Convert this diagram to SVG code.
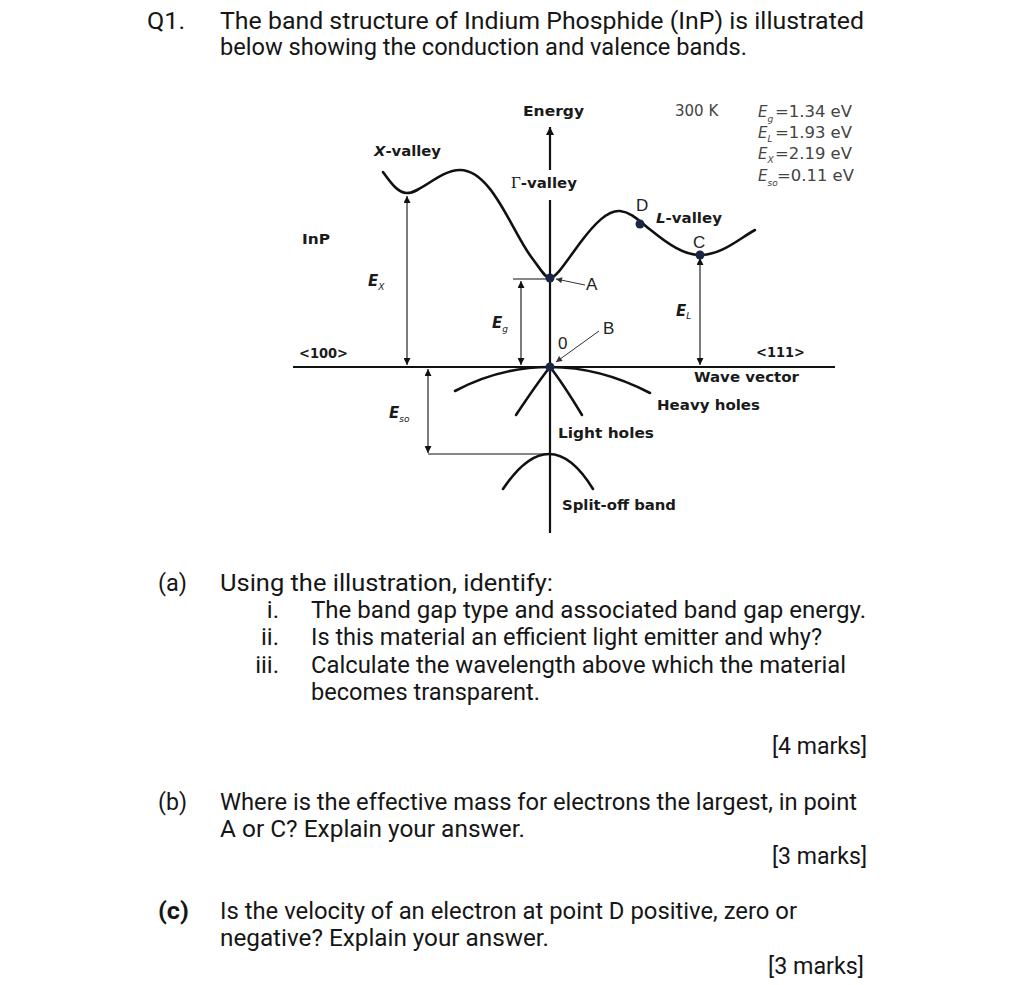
<svg xmlns="http://www.w3.org/2000/svg" width="1024" height="985" viewBox="0 0 1024 985">
<defs>
<marker id="ah" viewBox="0 0 10 10" refX="10" refY="5" markerWidth="8" markerHeight="7" markerUnits="userSpaceOnUse" orient="auto-start-reverse">
<path d="M0,0 L10,5 L0,10 z" fill="#111"/>
</marker>
<marker id="ahs" viewBox="0 0 10 10" refX="10" refY="5" markerWidth="9" markerHeight="6" markerUnits="userSpaceOnUse" orient="auto">
<path d="M0,0 L10,5 L0,10 z" fill="#333"/>
</marker>
<marker id="axh" viewBox="0 0 10 10" refX="10" refY="5" markerWidth="9" markerHeight="8" markerUnits="userSpaceOnUse" orient="auto">
<path d="M0,0 L10,5 L0,10 z" fill="#111"/>
</marker>
</defs>
<style>
.q{font-family:Roboto,"Liberation Sans",sans-serif;font-size:24px;fill:#161616}
.qb{font-weight:bold}
.lb{font-family:"DejaVu Sans","Liberation Sans",sans-serif;font-weight:bold;font-size:14px;fill:#1a1a1a}
.pt{font-family:"Liberation Sans",Arial,sans-serif;font-size:17px;fill:#222}
.gr{font-family:"DejaVu Sans","Liberation Sans",sans-serif;font-size:15px;fill:#444}
.ei{font-family:"DejaVu Sans","Liberation Sans",sans-serif;font-weight:bold;font-style:italic;font-size:15px;fill:#1a1a1a}
.sub{font-size:9px;font-style:italic}
.band{fill:none;stroke:#111;stroke-width:2.6;stroke-linecap:round}
.ax{fill:none;stroke:#111;stroke-width:2.2}
.th{fill:none;stroke:#111;stroke-width:1.1}
.dot{fill:#1b2644}
</style>
<rect width="1024" height="985" fill="#fff"/>

<g id="question-text">
<text class="q" x="147" y="29" textLength="38" lengthAdjust="spacingAndGlyphs">Q1.</text>
<text class="q" x="220" y="29" textLength="644" lengthAdjust="spacingAndGlyphs">The band structure of Indium Phosphide (InP) is illustrated</text>
<text class="q" x="220" y="55" textLength="527" lengthAdjust="spacingAndGlyphs">below showing the conduction and valence bands.</text>

<text class="q" x="158" y="591" textLength="29" lengthAdjust="spacingAndGlyphs">(a)</text>
<text class="q" x="220" y="591" textLength="333" lengthAdjust="spacingAndGlyphs">Using the illustration, identify:</text>
<text class="q" x="279" y="618" text-anchor="end">i.</text>
<text class="q" x="311" y="618" textLength="555" lengthAdjust="spacingAndGlyphs">The band gap type and associated band gap energy.</text>
<text class="q" x="279" y="645" text-anchor="end">ii.</text>
<text class="q" x="311" y="645" textLength="511" lengthAdjust="spacingAndGlyphs">Is this material an efficient light emitter and why?</text>
<text class="q" x="279" y="673" text-anchor="end">iii.</text>
<text class="q" x="311" y="673" textLength="535" lengthAdjust="spacingAndGlyphs">Calculate the wavelength above which the material</text>
<text class="q" x="311" y="700" textLength="229" lengthAdjust="spacingAndGlyphs">becomes transparent.</text>
<text class="q" x="772" y="754" textLength="95" lengthAdjust="spacingAndGlyphs">[4 marks]</text>

<text class="q" x="158" y="810" textLength="29" lengthAdjust="spacingAndGlyphs">(b)</text>
<text class="q" x="220" y="810" textLength="637" lengthAdjust="spacingAndGlyphs">Where is the effective mass for electrons the largest, in point</text>
<text class="q" x="220" y="837" textLength="305" lengthAdjust="spacingAndGlyphs">A or C? Explain your answer.</text>
<text class="q" x="772" y="864" textLength="95" lengthAdjust="spacingAndGlyphs">[3 marks]</text>

<text class="q qb" x="158" y="919" textLength="31" lengthAdjust="spacingAndGlyphs">(c)</text>
<text class="q" x="220" y="919" textLength="577" lengthAdjust="spacingAndGlyphs">Is the velocity of an electron at point D positive, zero or</text>
<text class="q" x="220" y="946" textLength="329" lengthAdjust="spacingAndGlyphs">negative? Explain your answer.</text>
<text class="q" x="768" y="974" textLength="96" lengthAdjust="spacingAndGlyphs">[3 marks]</text>
</g>

<g id="axes">
<line class="ax" x1="293" y1="367" x2="835" y2="367"/>
<line class="ax" x1="550" y1="533" x2="550" y2="200"/>
<line class="ax" x1="550" y1="170" x2="550" y2="127" marker-end="url(#axh)"/>
</g>

<g id="bands">
<path id="conduction-band" class="band" d="M383,172 C391,183 398,193 407,193 C421,193 440,170 460,170 C492,170 512,232 532,258 C541,270 545,278 550,278 C556,278 566,262 580,243 C595,223 608,210 620,211 C632,212 640,222 652,231 C668,244 684,255 700,255 C722,255 740,238 755,230"/>
<path id="heavy-holes" class="band" d="M455,391 Q500,367 550,367 Q600,367 650,393"/>
<path id="light-holes" class="band" d="M516,415 Q538,382 550,367 Q562,382 582,415"/>
<path id="split-off" class="band" d="M503,489 Q550,419 593,489"/>
</g>

<g id="connectors">
<line class="th" x1="407" y1="196" x2="407" y2="365" marker-start="url(#ah)" marker-end="url(#ah)"/>
<line class="th" x1="513" y1="279" x2="550" y2="279"/>
<line class="th" x1="521" y1="281" x2="521" y2="365" marker-start="url(#ah)" marker-end="url(#ah)"/>
<line class="th" x1="700" y1="258" x2="700" y2="365" marker-start="url(#ah)" marker-end="url(#ah)"/>
<line class="th" x1="428" y1="369" x2="428" y2="453" marker-start="url(#ah)" marker-end="url(#ah)"/>
<line class="th" x1="428" y1="454" x2="550" y2="454"/>
<line x1="585" y1="285" x2="556" y2="279" stroke="#333" stroke-width="1" marker-end="url(#ahs)"/>
<line x1="599" y1="331" x2="556" y2="362" stroke="#333" stroke-width="1" marker-end="url(#ahs)"/>
</g>

<g id="points">
<circle id="pt-A" class="dot" cx="550" cy="278" r="4.5"/>
<circle id="pt-origin" class="dot" cx="550" cy="367" r="4.5"/>
<circle id="pt-D" class="dot" cx="640" cy="224" r="4.5"/>
<circle id="pt-C" class="dot" cx="700" cy="255" r="4.5"/>
</g>

<g id="labels">
<text class="lb" x="523" y="116" textLength="61" lengthAdjust="spacingAndGlyphs">Energy</text>
<text class="lb" x="374" y="156" textLength="67" lengthAdjust="spacingAndGlyphs"><tspan font-style="italic">X</tspan>-valley</text>
<text class="lb" x="511" y="188" textLength="66" lengthAdjust="spacingAndGlyphs"><tspan font-family="Liberation Serif,serif" font-weight="normal" font-size="16">Γ</tspan>-valley</text>
<text class="lb" x="656" y="223" textLength="66" lengthAdjust="spacingAndGlyphs"><tspan font-style="italic">L</tspan>-valley</text>
<text class="lb" x="302" y="244" textLength="28" lengthAdjust="spacingAndGlyphs">InP</text>
<text class="lb" x="299" y="358" textLength="49" lengthAdjust="spacingAndGlyphs">&lt;100&gt;</text>
<text class="lb" x="756" y="357" textLength="49" lengthAdjust="spacingAndGlyphs">&lt;111&gt;</text>
<text class="lb" x="694" y="382" textLength="105" lengthAdjust="spacingAndGlyphs">Wave vector</text>
<text class="lb" x="657" y="410" textLength="103" lengthAdjust="spacingAndGlyphs">Heavy holes</text>
<text class="lb" x="558" y="438" textLength="96" lengthAdjust="spacingAndGlyphs">Light holes</text>
<text class="lb" x="562" y="510" textLength="114" lengthAdjust="spacingAndGlyphs">Split-off band</text>

<text class="pt" x="636" y="211">D</text>
<text class="pt" x="693" y="248">C</text>
<text class="pt" x="586" y="290">A</text>
<text class="pt" x="603" y="334">B</text>
<text class="pt" x="558" y="349" font-size="15" fill="#444">0</text>

<text class="ei" x="368" y="286">E<tspan class="sub" font-weight="normal" font-size="10" dy="4">X</tspan></text>
<text class="ei" x="492" y="328">E<tspan class="sub" font-weight="normal" font-size="10" dy="4">g</tspan></text>
<text class="ei" x="676" y="316">E<tspan class="sub" font-weight="normal" font-size="9" dy="3">L</tspan></text>
<text class="ei" x="389" y="418">E<tspan class="sub" font-weight="normal" font-size="9" dy="4">so</tspan></text>

<text class="gr" x="675" y="116">300 K</text>
<text class="gr" x="758" y="117"><tspan font-style="italic">E</tspan><tspan class="sub" dy="5">g</tspan></text>
<text class="gr" x="775" y="117" textLength="77" lengthAdjust="spacingAndGlyphs">=1.34 eV</text>
<text class="gr" x="758" y="138"><tspan font-style="italic">E</tspan><tspan class="sub" dy="4">L</tspan></text>
<text class="gr" x="775" y="138" textLength="77" lengthAdjust="spacingAndGlyphs">=1.93 eV</text>
<text class="gr" x="758" y="159"><tspan font-style="italic">E</tspan><tspan class="sub" dy="4">X</tspan></text>
<text class="gr" x="775" y="159" textLength="77" lengthAdjust="spacingAndGlyphs">=2.19 eV</text>
<text class="gr" x="758" y="181"><tspan font-style="italic">E</tspan><tspan class="sub" font-size="6" dy="5">so</tspan></text>
<text class="gr" x="777" y="181" textLength="77" lengthAdjust="spacingAndGlyphs">=0.11 eV</text>
</g>
</svg>
